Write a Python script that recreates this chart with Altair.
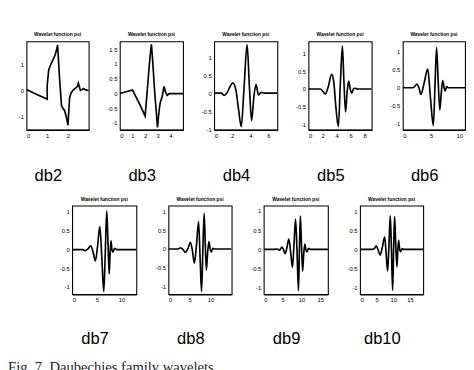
import altair as alt
import pandas as pd

# ---- data ----
names = ["db2", "db3", "db4", "db5", "db6", "db7", "db8", "db9", "db10"]

db2_x = [0, 0.5, 1.0, 1.0, 1.07, 1.15, 1.22, 1.3, 1.38, 1.46, 1.5, 1.6, 1.69, 1.76, 1.84, 1.92, 2.0, 2.08, 2.15, 2.23, 2.3, 2.38, 2.45, 2.5, 2.6, 2.68, 2.75, 2.85, 3.0]
db2_y = [0.04, -0.15, -0.33, 0.2, 0.78, 0.95, 1.08, 1.2, 1.35, 1.58, 1.73, 0.4, -0.58, -0.68, -0.77, -1.0, -1.32, -0.27, -0.1, 0.0, 0.05, 0.1, 0.15, 0.28, 0.0, 0.03, 0.07, 0.02, 0.0]

db3_x = [0, 0.5, 1.0, 1.5, 2.0, 2.15, 2.3, 2.4, 2.5, 2.6, 2.75, 2.9, 2.98, 3.1, 3.2, 3.35, 3.5, 3.62, 3.75, 3.9, 4.0, 4.5, 5.0]
db3_y = [0.0, 0.06, 0.12, -0.3, -0.76, 0.0, 0.8, 1.3, 1.67, 1.1, 0.1, -0.7, -1.15, -0.6, -0.3, -0.1, 0.24, 0.05, -0.06, 0.0, 0.0, 0.0, 0.0]

db4_x = [0, 0.8, 1.1, 1.4, 1.8, 2.05, 2.4, 2.7, 3.0, 3.3, 3.65, 3.9, 4.15, 4.4, 4.64, 4.9, 5.2, 5.6, 7.0]
db4_y = [0.0, 0.0, -0.06, 0.0, 0.2, 0.29, 0.1, -0.45, -0.93, 0.1, 1.35, 0.2, -0.76, -0.1, 0.24, -0.05, 0.02, 0.0, 0.0]

db5_x = [0, 1.0, 1.7, 2.1, 2.4, 2.8, 3.3, 3.6, 3.9, 4.25, 4.55, 4.83, 5.05, 5.28, 5.5, 5.73, 5.95, 6.17, 6.4, 6.6, 7.0, 9.0]
db5_y = [0.0, 0.0, 0.0, -0.08, -0.14, 0.05, 0.41, 0.2, -0.5, -1.05, 0.2, 1.2, 0.2, -0.64, -0.1, 0.22, 0.0, -0.12, 0.0, 0.02, 0.0, 0.0]

db6_x = [0, 1.8, 2.1, 2.5, 2.85, 3.2, 3.8, 4.4, 4.9, 5.4, 5.7, 5.97, 6.25, 6.55, 6.8, 7.05, 7.3, 7.5, 7.75, 8.0, 11.0]
db6_y = [0.0, 0.0, 0.04, 0.1, 0.0, -0.18, 0.15, 0.52, -0.3, -1.05, 0.1, 1.12, 0.2, -0.62, -0.15, 0.2, 0.0, -0.09, 0.03, 0.0, 0.0]

db7_x = [0, 2.2, 2.6, 3.2, 3.75, 4.2, 4.7, 5.15, 5.6, 6.0, 6.4, 6.7, 7.0, 7.25, 7.5, 7.65, 7.85, 8.05, 8.25, 8.6, 9.0, 13.0]
db7_y = [0.0, 0.0, -0.03, 0.02, 0.1, -0.05, -0.3, 0.1, 0.61, -0.2, -1.12, -0.1, 1.03, 0.2, -0.65, -0.2, 0.23, 0.0, -0.07, 0.03, 0.0, 0.0]

db8_x = [0, 2.3, 2.9, 3.5, 4.0, 4.6, 5.2, 5.7, 6.15, 6.65, 7.15, 7.5, 7.85, 8.15, 8.47, 8.75, 9.0, 9.3, 9.6, 9.85, 10.15, 10.6, 11.0, 15.0]
db8_y = [0.0, 0.0, 0.03, -0.02, -0.09, 0.0, 0.18, -0.05, -0.38, 0.1, 0.73, -0.2, -1.13, -0.1, 0.95, 0.1, -0.56, -0.1, 0.2, 0.03, -0.08, 0.02, 0.0, 0.0]

db9_x = [0, 2.7, 3.5, 4.2, 4.8, 5.2, 5.65, 6.15, 6.65, 7.1, 7.6, 8.0, 8.43, 8.8, 9.2, 9.45, 9.7, 10.0, 10.3, 10.6, 10.9, 11.15, 11.4, 11.9, 12.3, 17.0]
db9_y = [0.0, 0.0, 0.01, -0.02, 0.06, 0.0, -0.11, 0.05, 0.27, -0.05, -0.47, 0.1, 0.79, 0.0, -1.08, 0.0, 0.87, 0.1, -0.57, -0.1, 0.14, 0.0, -0.07, 0.03, 0.0, 0.0]

db10_x = [0, 3.5, 4.3, 4.85, 5.4, 6.06, 6.7, 7.4, 7.85, 8.3, 8.7, 9.1, 9.45, 9.8, 10.1, 10.4, 10.75, 11.1, 11.35, 11.6, 11.9, 12.2, 12.7, 13.2, 19.0]
db10_y = [0.0, 0.0, 0.02, 0.09, 0.0, -0.15, 0.05, 0.33, -0.1, -0.57, 0.1, 0.88, 0.0, -1.08, 0.0, 0.86, 0.1, -0.46, -0.05, 0.24, 0.02, -0.06, 0.02, 0.0, 0.0]

x_domains = [[0, 3], [0, 5], [0, 7], [0, 9], [0, 11], [0, 13], [0, 15], [0, 17], [0, 19]]
x_ticks = [[0, 1, 2], [0, 1, 2, 3, 4], [0, 2, 4, 6], [0, 2, 4, 6, 8], [0, 5, 10],
           [0, 5, 10], [0, 5, 10], [0, 5, 10, 15], [0, 5, 10, 15]]
y_domains = [[-1.5, 1.87], [-1.23, 1.77], [-1.02, 1.44], [-1.14, 1.33], [-1.17, 1.29],
             [-1.19, 1.17], [-1.2, 1.15], [-1.17, 1.14], [-1.18, 1.15]]
y_ticks = [[-1, 0, 1], [-1, -0.5, 0, 0.5, 1, 1.5], [-1, -0.5, 0, 0.5, 1], [-1, -0.5, 0, 0.5, 1],
           [-1, -0.5, 0, 0.5, 1], [-1, -0.5, 0, 0.5, 1], [-1, -0.5, 0, 0.5, 1],
           [-1, -0.5, 0, 0.5, 1], [-1, -0.5, 0, 0.5, 1]]
panel_title = "Wavelet function psi"
caption = "Fig. 7.  Daubechies family wavelets"

series = [(db2_x, db2_y), (db3_x, db3_y), (db4_x, db4_y), (db5_x, db5_y), (db6_x, db6_y),
          (db7_x, db7_y), (db8_x, db8_y), (db9_x, db9_y), (db10_x, db10_y)]

# ---- layout / style ----
widths = [64, 65, 65, 65, 64, 66, 65, 66, 65]
heights = [91] * 9
interps = ["linear", "linear"] + ["monotone"] * 7
title_pads = [30] * 5 + [29] * 4

LABEL_EXPR = "datum.value < 0 ? '-' + format(-datum.value, '~g') : format(datum.value, '~g')"


def panel(i):
    xs, ys = series[i]
    df = pd.DataFrame({"x": xs, "y": ys})
    w = widths[i]
    return alt.Chart(
        df,
        title=alt.TitleParams(panel_title, fontSize=5, offset=4, font="Liberation Sans",
                              color="black", fontWeight="bold"),
    ).mark_line(color="black", strokeWidth=1.7, interpolate=interps[i], clip=True).encode(
        x=alt.X("x:Q",
                scale=alt.Scale(domain=x_domains[i], nice=False, zero=False),
                axis=alt.Axis(values=x_ticks[i], labelExpr=LABEL_EXPR, title=names[i],
                              titleX=w / 2 - 10, titleAlign="center",
                              titlePadding=title_pads[i],
                              titleFont="Liberation Sans", titleFontSize=17,
                              titleFontWeight="normal", titleColor="black",
                              domain=True, domainColor="black", domainWidth=1.6)),
        y=alt.Y("y:Q",
                scale=alt.Scale(domain=y_domains[i], nice=False, zero=False),
                axis=alt.Axis(values=y_ticks[i], labelExpr=LABEL_EXPR, title=None, domain=False)),
    ).properties(width=w, height=heights[i])


spacer_df = pd.DataFrame({"v": [0]})
spacer = alt.Chart(spacer_df).mark_point(opacity=0).encode(
    x=alt.X("v:Q", axis=None), y=alt.Y("v:Q", axis=None)
).properties(width=14, height=91, view=alt.ViewBackground(stroke="transparent"))

top = alt.hconcat(*[panel(i) for i in range(5)], spacing=32, bounds="flush")
bottom = alt.hconcat(spacer, *[panel(i) for i in range(5, 9)], spacing=33, bounds="flush")

chart = alt.vconcat(
    top, bottom, spacing=169, bounds="flush",
    title=alt.TitleParams(caption, orient="bottom", anchor="start", offset=14, dx=-10,
                          font="Liberation Serif", fontSize=15, fontWeight="normal",
                          color="#222222"),
).properties(
    padding={"left": 0, "top": 19, "right": 0, "bottom": 0}
).configure_view(
    stroke="black", strokeWidth=1.1
).configure_axis(
    grid=False, ticks=False, labelFont="Liberation Sans", labelFontSize=6,
    labelColor="black", labelPadding=3
)

chart.save("out.html", embed_options={"renderer": "svg", "actions": False})
